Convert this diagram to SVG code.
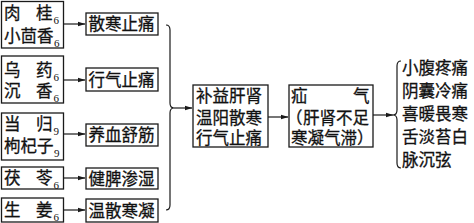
<svg xmlns="http://www.w3.org/2000/svg" width="474" height="223" viewBox="0 0 474 223">
<defs>
<style>
.box{fill:none;stroke:#1a1a1a;stroke-width:1.3}
.t{font-family:"Noto Sans CJK SC","Noto Sans CJK JP",sans-serif;font-size:16.5px;fill:#111;stroke:#111;stroke-width:0.3}
.s{font-family:"Liberation Serif",serif;font-size:11px;fill:#111}
.ln{fill:none;stroke:#1a1a1a;stroke-width:1.2}
</style>
<marker id="ah" markerWidth="8" markerHeight="6" refX="7.5" refY="3" orient="auto" markerUnits="userSpaceOnUse">
<path d="M0,0.5 L8,3 L0,5.5 Z" fill="#1a1a1a"/>
</marker>
</defs>
<rect width="474" height="223" fill="#fff"/>

<g id="herb1">
<rect class="box" x="1.5" y="1.5" width="62" height="46.5"/>
<text class="t" x="4" y="19">肉</text><text class="t" x="36" y="19">桂</text><text class="s" x="53.5" y="24">6</text>
<text class="t" x="4" y="42">小茴香</text><text class="s" x="54" y="47">6</text>
</g>
<g id="herb2">
<rect class="box" x="1.5" y="56" width="62" height="47"/>
<text class="t" x="4" y="76">乌</text><text class="t" x="36" y="76">药</text><text class="s" x="53.5" y="81">6</text>
<text class="t" x="4" y="97">沉</text><text class="t" x="36" y="97">香</text><text class="s" x="53.5" y="102">6</text>
</g>
<g id="herb3">
<rect class="box" x="1.5" y="113" width="62" height="47"/>
<text class="t" x="4" y="130">当</text><text class="t" x="36" y="130">归</text><text class="s" x="53.5" y="135">9</text>
<text class="t" x="4" y="152">枸杞子</text><text class="s" x="54" y="157">9</text>
</g>
<g id="herb4">
<rect class="box" x="1.5" y="167" width="62" height="22"/>
<text class="t" x="4" y="184">茯</text><text class="t" x="36" y="184">苓</text><text class="s" x="53.5" y="189">6</text>
</g>
<g id="herb5">
<rect class="box" x="1.5" y="198" width="62" height="24"/>
<text class="t" x="4" y="216">生</text><text class="t" x="36" y="216">姜</text><text class="s" x="53.5" y="221">6</text>
</g>

<g id="eff1">
<rect class="box" x="86" y="13" width="72" height="22"/>
<text class="t" x="88.5" y="30">散寒止痛</text>
</g>
<g id="eff2">
<rect class="box" x="86" y="68" width="72" height="23"/>
<text class="t" x="88.5" y="85.5">行气止痛</text>
</g>
<g id="eff3">
<rect class="box" x="86" y="124" width="72" height="22"/>
<text class="t" x="88.5" y="141">养血舒筋</text>
</g>
<g id="eff4">
<rect class="box" x="86" y="168" width="72" height="21"/>
<text class="t" x="88.5" y="184.5">健脾渗湿</text>
</g>
<g id="eff5">
<rect class="box" x="86" y="199" width="72" height="23"/>
<text class="t" x="88.5" y="216.5">温散寒凝</text>
</g>

<g id="method">
<rect class="box" x="193" y="85" width="75" height="62"/>
<text class="t" x="196" y="101.5">补益肝肾</text>
<text class="t" x="196" y="123.5">温阳散寒</text>
<text class="t" x="196" y="143.5">行气止痛</text>
</g>

<g id="disease">
<rect class="box" x="289" y="85" width="84" height="62"/>
<text class="t" x="291" y="101.5">疝</text><text class="t" x="353" y="101.5">气</text>
<text class="t" x="286" y="123.5">（</text><text class="t" x="303" y="123.5">肝肾不足</text>
<text class="t" x="291" y="143.5">寒凝气滞）</text>
</g>

<g id="symptoms">
<text class="t" x="402" y="74">小腹疼痛</text>
<text class="t" x="402" y="97">阴囊冷痛</text>
<text class="t" x="402" y="120">喜暖畏寒</text>
<text class="t" x="402" y="143">舌淡苔白</text>
<text class="t" x="402" y="166">脉沉弦</text>
</g>

<g id="connectors">
<line class="ln" x1="64" y1="24" x2="85" y2="24" marker-end="url(#ah)"/>
<line class="ln" x1="64" y1="80" x2="85" y2="80" marker-end="url(#ah)"/>
<line class="ln" x1="64" y1="134" x2="85" y2="134" marker-end="url(#ah)"/>
<line class="ln" x1="64" y1="178" x2="85" y2="178" marker-end="url(#ah)"/>
<line class="ln" x1="64" y1="210" x2="85" y2="210" marker-end="url(#ah)"/>
<path class="ln" d="M166,25 Q170,25 170,30 L170,103 Q170,108 174,108 Q170,108 170,113 L170,205 Q170,210 166,210"/>
<line class="ln" x1="174" y1="108" x2="192" y2="108" marker-end="url(#ah)"/>
<line class="ln" x1="268" y1="117" x2="288" y2="117" marker-end="url(#ah)"/>
<line class="ln" x1="373" y1="115" x2="393" y2="115" marker-end="url(#ah)"/>
<path class="ln" d="M401,61 Q397,61 397,66 L397,110 Q397,115 393,115 Q397,115 397,120 L397,163 Q397,168 401,168"/>
</g>
</svg>
